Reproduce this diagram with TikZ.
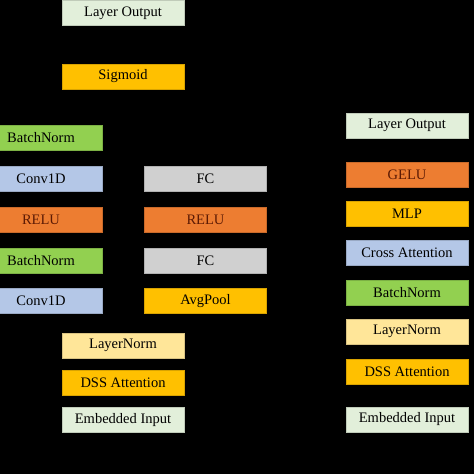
\documentclass[tikz,border=0pt]{standalone}
\usepackage{fontspec}
\setmainfont{Liberation Serif}
\newfontfamily\boxfont{Liberation Serif}
\definecolor{outgreen}{HTML}{E2EFDA}
\definecolor{gold}{HTML}{FFC000}
\definecolor{normgreen}{HTML}{92D050}
\definecolor{convblue}{HTML}{B4C7E7}
\definecolor{fcgrey}{HTML}{D0D0D0}
\definecolor{actorange}{HTML}{ED7D31}
\definecolor{lnyellow}{HTML}{FFE699}
\definecolor{acttext}{HTML}{5C1A04}
\tikzset{
  layer/.style={minimum width=122pt,minimum height=25pt,inner sep=0pt,
    draw=#1!85!black,line width=.4pt,fill=#1,
    font=\boxfont\fontsize{14.5}{16}\selectfont},
  act/.style={layer=actorange,text=acttext}
}
\begin{document}
\begin{tikzpicture}[x=1pt,y=-1pt]
    \fill[black] (0,0) rectangle (474,474);
    \useasboundingbox (0,0) rectangle (474,474);
    % left branch
    \foreach \n/\y/\t/\c in {lout/13/Layer Output/outgreen,sig/76.5/Sigmoid/gold,
        lemb/420/Embedded Input/outgreen,ldss/382.5/DSS Attention/gold,
        lln/345.5/LayerNorm/lnyellow}
    \node[layer=\c] (\n) at (123,\y) {\t};
    \foreach \n/\y/\t/\c in {bna/138/BatchNorm/normgreen,cva/178.5/Conv1D/convblue,
        bnb/260.5/BatchNorm/normgreen,cvb/301/Conv1D/convblue}
    \node[layer=\c] (\n) at (41,\y) {\t};
    \node[act] (rla) at (41,219.5) {RELU};
    % squeeze branch
    \node[layer=fcgrey] (fca) at (205.5,178.5) {FC};
    \node[act] (rlb) at (205.5,219.5) {RELU};
    \node[layer=fcgrey] (fcb) at (205.5,260.5) {FC};
    \node[layer=gold] (pool) at (205.5,301) {AvgPool};
    % right block
    \foreach \n/\y/\t/\c in {rout/125.5/Layer Output/outgreen,mlp/213.5/MLP/gold,
        cross/252.5/Cross Attention/convblue,rbn/292.5/BatchNorm/normgreen,
        rln/331.5/LayerNorm/lnyellow,rdss/371.5/DSS Attention/gold,
        remb/419.5/Embedded Input/outgreen}
    \node[layer=\c] (\n) at (407,\y) {\t};
    \node[act] (gelu) at (407,174.5) {GELU};
  \end{tikzpicture}
\end{document}
